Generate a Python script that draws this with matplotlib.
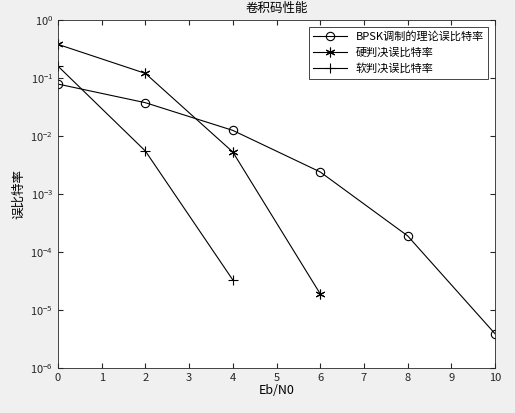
import matplotlib
matplotlib.use("Agg")
import matplotlib.pyplot as plt

plt.rcParams['font.family'] = ['Noto Sans CJK SC', 'DejaVu Sans']
plt.rcParams['axes.unicode_minus'] = False

ebn0_bpsk = [0, 2, 4, 6, 8, 10]
ber_bpsk = [0.0786, 0.0375, 0.0125, 0.0024, 0.00019, 3.9e-6]
ebn0_hard = [0, 2, 4, 6]
ber_hard = [0.38, 0.12, 0.0053, 1.9e-5]
ebn0_soft = [0, 2, 4]
ber_soft = [0.16, 0.0055, 3.3e-5]

fig = plt.figure(figsize=(5.15, 4.13), dpi=100, facecolor='#f0f0f0')
ax = fig.add_axes([58/515, 1-368/413, (495-58)/515, (368-20)/413])
ax.semilogy(ebn0_bpsk, ber_bpsk, 'k-o', mfc='none', lw=0.8, ms=6, mew=0.8, label='BPSK调制的理论误比特率')
ax.semilogy(ebn0_hard, ber_hard, 'k-', marker=(6, 2, 0), lw=0.8, ms=7, mew=0.8, label='硬判决误比特率')
ax.semilogy(ebn0_soft, ber_soft, 'k-+', lw=0.8, ms=7, mew=0.8, label='软判决误比特率')
ax.set_xlim(0, 10)
ax.set_ylim(1e-6, 1)
ax.set_xticks(range(11))
ax.tick_params(direction='in', which='both', top=True, right=True, labelsize=8, colors='#262626')
ax.minorticks_off()
ax.set_yticks([1e-6, 1e-5, 1e-4, 1e-3, 1e-2, 1e-1, 1])
ax.set_title('卷积码性能', fontsize=9, pad=6)
ax.set_xlabel('Eb/N0', fontsize=9, labelpad=1)
ax.set_ylabel('误比特率', fontsize=9)
for s in ax.spines.values():
    s.set_linewidth(0.6)
    s.set_color('#262626')
leg = ax.legend(loc='upper right', fontsize=8, fancybox=False, edgecolor='#262626', framealpha=1, borderaxespad=0.6, handlelength=3)
leg.get_frame().set_linewidth(0.6)
fig.savefig('out.png', dpi=100, facecolor=fig.get_facecolor())
